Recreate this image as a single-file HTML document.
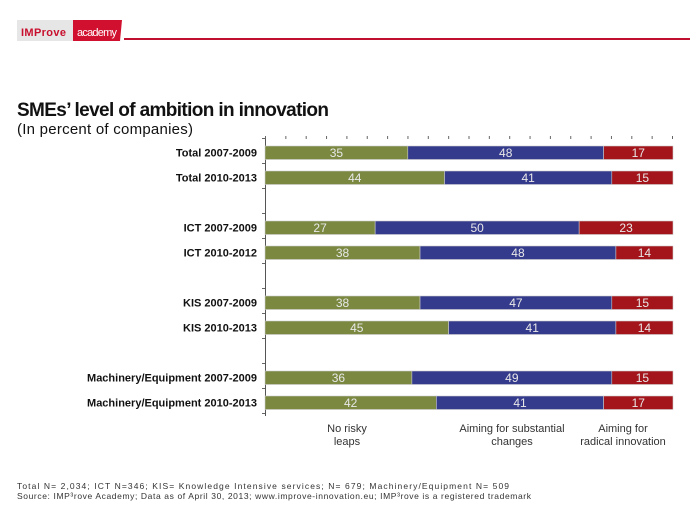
<!DOCTYPE html>
<html><head><style>
body{margin:0;background:#fff;}
svg{display:block;font-family:"Liberation Sans",sans-serif;}
</style></head><body>
<svg width="700" height="508" xmlns="http://www.w3.org/2000/svg">
<rect x="17" y="20" width="56" height="21" fill="#e6e6e6"/>
<text x="21" y="36" font-size="11" font-weight="bold" fill="#c8102e" textLength="45">IMProve</text>
<path d="M73 20 H122 L120 41 H73 Z" fill="#d0102e"/>
<text x="77" y="36" font-size="11" fill="#fff" textLength="40">academy</text>
<rect x="124" y="38" width="566" height="2" fill="#c01030"/>
<text x="17" y="116" font-size="19" font-weight="bold" fill="#111" textLength="312">SMEs’ level of ambition in innovation</text>
<text x="17" y="134" font-size="15" fill="#111" textLength="176">(In percent of companies)</text>
<g stroke="#555" stroke-width="1">
<line x1="265.5" y1="138" x2="265.5" y2="416"/>
</g>
<g id="ticks" stroke="#666" stroke-width="1"></g>
<g id="bars"></g>
<g font-size="11" fill="#333" text-anchor="middle">
<text x="347" y="432">No risky</text><text x="347" y="445">leaps</text>
<text x="512" y="432">Aiming for substantial</text><text x="512" y="445">changes</text>
<text x="623" y="432">Aiming for</text><text x="623" y="445">radical innovation</text>
</g>
<g font-size="8.5" fill="#333">
<text x="17" y="489" textLength="492" lengthAdjust="spacing">Total N= 2,034; ICT N=346; KIS= Knowledge  Intensive  services; N= 679; Machinery/Equipment  N= 509</text>
<text x="17" y="499" textLength="514" lengthAdjust="spacing">Source: IMP³rove  Academy; Data as of April 30, 2013; www.improve-innovation.eu;  IMP³rove  is a registered  trademark</text>
</g>
</svg>
<script>
const rows=[["Total 2007-2009",0,[35,48,17]],["Total 2010-2013",1,[44,41,15]],["ICT 2007-2009",3,[27,50,23]],["ICT 2010-2012",4,[38,48,14]],["KIS 2007-2009",6,[38,47,15]],["KIS 2010-2013",7,[45,41,14]],["Machinery/Equipment 2007-2009",9,[36,49,15]],["Machinery/Equipment 2010-2013",10,[42,41,17]]];
const cols=["#7a8840","#343a8c","#a4151b"];
const ns="http://www.w3.org/2000/svg";
const g=document.getElementById("bars"),t=document.getElementById("ticks");
function el(n,a,p){const e=document.createElementNS(ns,n);for(const k in a)e.setAttribute(k,a[k]);p.appendChild(e);return e;}
for(let i=0;i<=11;i++){el("line",{x1:262,x2:265,y1:138.5+i*25,y2:138.5+i*25},t);}
for(let i=0;i<=20;i++){const x=265.5+i*20.35;el("line",{x1:x,x2:x,y1:136,y2:139},t);}
const X0=265,W=408;
for(const [lab,s,v] of rows){const y=146+s*25;let x=X0;
 const tx=el("text",{x:257,y:y+10.5,"font-size":11,"font-weight":"bold","text-anchor":"end",fill:"#111"},g);tx.textContent=lab;
 v.forEach((p,j)=>{const w=W*p/100;el("rect",{x:x,y:y,width:w,height:13.5,fill:cols[j],stroke:"#ccc","stroke-width":0.6},g);
 const tt=el("text",{x:x+w/2,y:y+11,"font-size":12,"text-anchor":"middle",fill:"#e8e8e8"},g);tt.textContent=p;x+=w;});}
</script>
</body></html>
